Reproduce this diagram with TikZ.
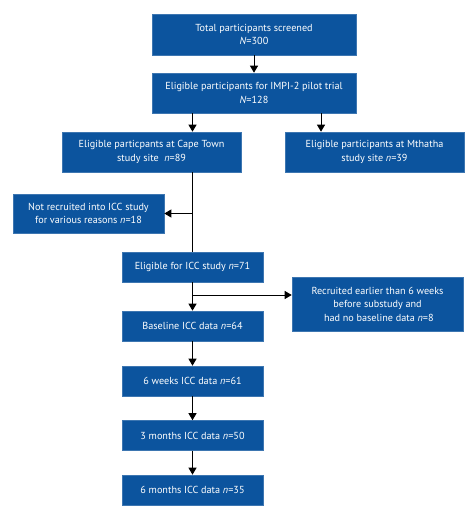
\documentclass[tikz,border=0pt]{standalone}
\usepackage{fontspec}
\setmainfont{PT Sans}
\usetikzlibrary{arrows.meta}
\definecolor{boxblue}{RGB}{12,84,158}
\tikzset{
  flowbox/.style={draw=boxblue!80!white, line width=0.6pt, fill=boxblue, text=white, inner sep=0pt, align=center,
    font=\fontsize{10.2}{13.5}\selectfont},
  conn/.style={line width=0.9pt, black},
  arr/.style={conn, -{Triangle[width=8pt,length=7pt]}}
}
\begin{document}
\begin{tikzpicture}[x=1pt,y=-1pt]
\useasboundingbox (0,0) rectangle (474,526);
\node[flowbox, minimum width=204pt, minimum height=41pt] (b1) at (254,34.5) {Total participants screened\\\textit{N}=300};
\node[flowbox, minimum width=204pt, minimum height=40pt] (b2) at (254,93) {Eligible participants for IMPI-2 pilot trial\\\textit{N}=128};
\node[flowbox, minimum width=179pt, minimum height=40pt] (b3) at (151.5,152) {Eligible particpants at Cape Town\\study site \ \textit{n}=89};
\node[flowbox, minimum width=179pt, minimum height=40pt] (b4) at (374.5,152) {Eligible participants at Mthatha\\study site \textit{n}=39};
\node[flowbox, minimum width=151pt, minimum height=39pt] (b5) at (88.5,213.5) {Not recruited into ICC study\\for various reasons \textit{n}=18};
\node[flowbox, minimum width=141pt, minimum height=30pt] (b6) at (192.5,267) {Eligible for ICC study \textit{n}=71};
\node[flowbox, minimum width=141pt, minimum height=30pt] (b7) at (192.5,326) {Baseline ICC data \textit{n}=64};
\node[flowbox, minimum width=171pt, minimum height=54pt] (b8) at (377.5,304) {Recruited earlier than 6 weeks\\before substudy and\\\ had no baseline data \textit{n}=8};
\node[flowbox, minimum width=141pt, minimum height=30pt] (b9) at (192.5,381) {6 weeks ICC data \textit{n}=61};
\node[flowbox, minimum width=141pt, minimum height=30pt] (b10) at (192.5,435.5) {3 months ICC data \textit{n}=50};
\node[flowbox, minimum width=141pt, minimum height=30pt] (b11) at (192.5,490) {6 months ICC data \textit{n}=35};
\coordinate (rx) at (321,0);
\coordinate (s1) at (192.5,295);
\draw[arr] (b1) -- (b2);
\draw[arr] (b2.south -| b6) -- (b3.north -| b6);
\draw[arr] (b2.south -| rx) -- (b4.north -| rx);
\draw[conn] (b3.south -| b6) -- (b6.north);
\draw[arr] (b5.east -| b6) -- (b5.east);
\draw[arr] (b6) -- (b7);
\draw[arr] (s1) -- (s1 -| b8.west);
\draw[arr] (b7) -- (b9);
\draw[arr] (b9) -- (b10);
\draw[arr] (b10) -- (b11);
\end{tikzpicture}
\end{document}
